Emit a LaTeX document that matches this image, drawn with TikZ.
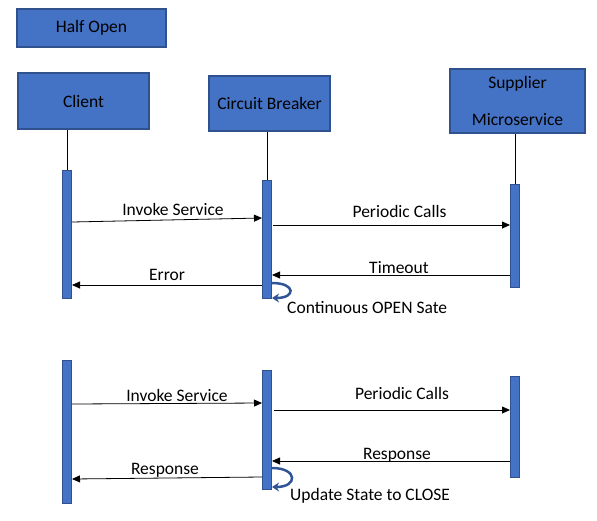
\documentclass[tikz,border=0pt]{standalone}
\usepackage{fontspec}
\setmainfont{Carlito}
\usetikzlibrary{arrows.meta}
\usetikzlibrary{positioning}
\usetikzlibrary{calc}

\definecolor{boxblue}{HTML}{4472C4}
\definecolor{boxline}{HTML}{2F528F}
\definecolor{loopblue}{HTML}{2F5597}

\begin{document}
\begin{tikzpicture}[
      x = 1pt, y = -1pt,
      >={Triangle[length=8pt, width=7pt]},
      every node/.style = { font = \fontsize{17.5}{20}\selectfont },
      actor/.style = {
        draw = boxline, fill = boxblue, line width = 1.5pt,
        inner sep = 0, align = center
      },
      bar/.style = {
        draw = boxline, fill = boxblue, line width = 1pt,
        minimum width = 9pt, inner sep = 0, anchor = north
      },
      msg/.style = { ->, black, line width = 0.8pt },
      lbl/.style = { inner sep = 4pt },
      selfloop/.style = {
        -{Stealth[length=7pt, width=9pt]},
        draw = loopblue, line width = 2.5pt
      },
    ]
    \useasboundingbox (0,0) rectangle (597,520);

    \node[actor, minimum width = 149pt, minimum height = 38pt] (mode) at (91.5,28) {Half Open};
    \node[actor, minimum width = 131pt, minimum height = 56pt] (client) at (83.5,101) {\raisebox{-2pt}{Client}};
    \node[actor, minimum width = 121pt, minimum height = 55pt] (breaker) at (269.5,103.5) {Circuit Breaker};
    \node[actor, minimum width = 135pt, minimum height = 64pt] (supplier) at (517.5,101) {Supplier\\[17pt]Microservice};

    \foreach \n/\x/\t/\h in {clA/67/170/128, cbA/267/180/118, spA/515/184/103,
                             clB/67/360/143, cbB/267/370/119, spB/515/376/101} {
      \node[bar, minimum height = \h pt] (\n) at (\x,\t) {};
    }

    % lifelines
    \draw (clA.north) -- (clA |- client.south);
    \draw (cbA.north) -- (cbA |- breaker.south);
    \draw (spA.north) -- (spA |- supplier.south);

    % first round
    \draw[msg] ($(clA.north east)+(0,52)$) -- node[lbl, above, xshift=6pt] {Invoke Service} ($(cbA.north west)+(0,38)$);
    \draw[msg] ($(cbA.north east)+(1,45)$) -- node[lbl, above, xshift=8pt, yshift=3pt] {Periodic Calls} ($(spA.north west)+(0,41)$);
    \draw[msg] ($(spA.north west)+(0,91)$) -- node[lbl, above, xshift=8pt, yshift=-3pt] {Timeout} ($(cbA.north east)+(0,95)$);
    \draw[msg] ($(cbA.north west)+(0,105)$) -- node[lbl, above] {Error} ($(clA.north east)+(0,115)$);
    \draw[selfloop] ([yshift=16pt]cbA.south east) .. controls +(24,0) and +(24,0) .. ([yshift=1pt]cbA.south east);
    \node[lbl, below right = -2pt and 11pt of cbA.south east] (openNote) {Continuous OPEN Sate};

    % second round
    \draw[msg] ($(clB.north east)+(0,44)$) -- node[lbl, above, xshift=10pt, yshift=-3pt] {Invoke Service} ($(cbB.north west)+(0,33)$);
    \draw[msg] ($(cbB.north east)+(2,40)$) -- node[lbl, above, xshift=10pt, yshift=6pt] {Periodic Calls} ($(spB.north west)+(0,34)$);
    \draw[msg] ($(spB.north west)+(0,85)$) -- node[lbl, above, xshift=6pt, yshift=-6pt] {Response} ($(cbB.north east)+(0,91)$);
    \draw[msg] ($(cbB.north west)+(0,107)$) -- node[lbl, above, xshift=-2pt, yshift=-4pt] {Response} ($(clB.north east)+(0,119)$);
    \draw[selfloop] ([yshift=22pt]cbB.south east) .. controls +(26,0) and +(26,0) .. ([yshift=3pt]cbB.south east);
    \node[lbl, below right = -6pt and 14pt of cbB.south east] (closeNote) {Update State to CLOSE};
  \end{tikzpicture}
\end{document}
